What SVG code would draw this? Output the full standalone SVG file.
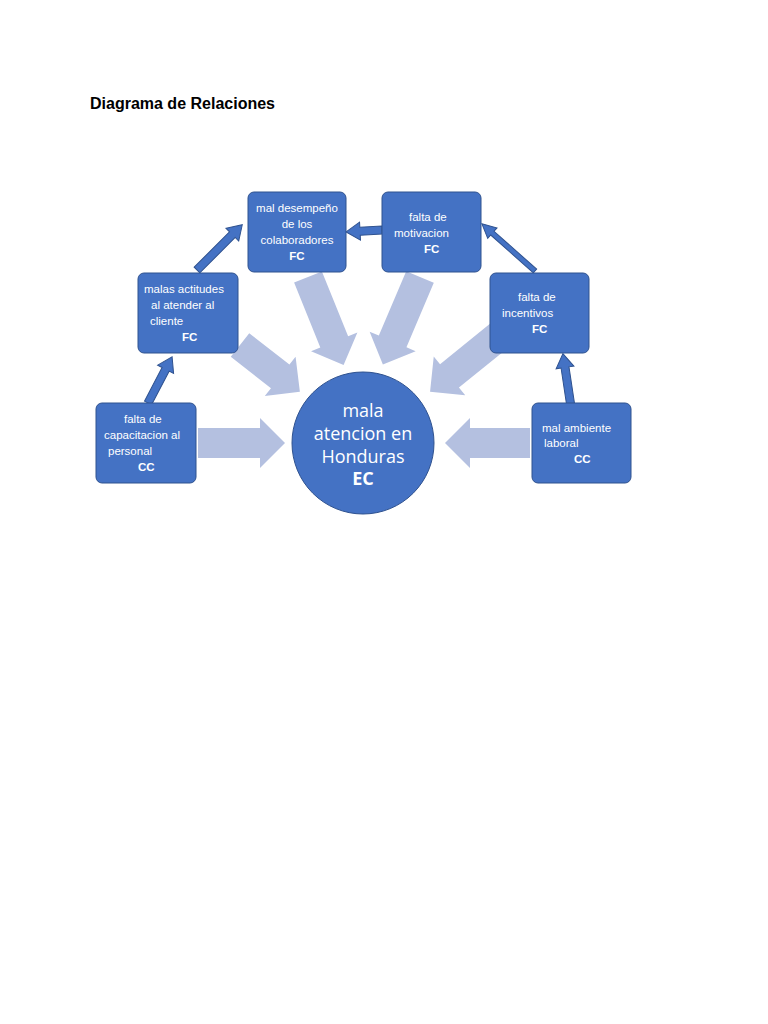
<svg xmlns="http://www.w3.org/2000/svg" width="768" height="1024" viewBox="0 0 768 1024">
<style>
.box{fill:#4472c4;stroke:#2f528f;stroke-width:1}
.big{fill:#b4c0e0}
.thin{fill:#4472c4;stroke:#2f528f;stroke-width:1}
.t{font-family:"Liberation Sans",Arial,sans-serif;font-size:11.5px;fill:#fff}
.b{font-weight:bold}
.c{font-family:"Open Sans","Liberation Sans",sans-serif;font-size:18px;fill:#fff;text-anchor:middle}
</style>
<rect width="768" height="1024" fill="#fff"/>
<text x="90" y="109" font-family="Liberation Sans,Arial,sans-serif" font-size="16" font-weight="bold" fill="#000">Diagrama de Relaciones</text>
<g id="connectors">
<polygon class="big" transform="translate(198,443)" points="0,-15 62,-15 62,-25 87,0 62,25 62,15 0,15"/>
<polygon class="big" transform="translate(240,345) rotate(38)" points="0,-15 51,-15 51,-25 76,0 51,25 51,15 0,15"/>
<polygon class="big" transform="translate(308,277) rotate(68)" points="0,-15 70,-15 70,-25 95,0 70,25 70,15 0,15"/>
<polygon class="big" transform="translate(420,277) rotate(113)" points="0,-15 70,-15 70,-25 95,0 70,25 70,15 0,15"/>
<polygon class="big" transform="translate(500,335) rotate(141)" points="0,-15 65,-15 65,-25 90,0 65,25 65,15 0,15"/>
<polygon class="big" transform="translate(530,443) rotate(180)" points="0,-15 60,-15 60,-25 85,0 60,25 60,15 0,15"/>
<polygon class="thin" transform="translate(148,403) rotate(-62.4)" points="0,-4 38,-4 38,-9 52,0 38,9 38,4 0,4"/>
<polygon class="thin" transform="translate(197,270) rotate(-45)" points="0,-4 50,-4 50,-9 64,0 50,9 50,4 0,4"/>
<polygon class="thin" transform="translate(382,230) rotate(177)" points="0,-4 22,-4 22,-9 36,0 22,9 22,4 0,4"/>
<polygon class="thin" transform="translate(535,271) rotate(-138.4)" points="0,-2.5 57,-2.5 57,-7 71,0 57,7 57,2.5 0,2.5"/>
<polygon class="thin" transform="translate(571,407) rotate(-98.6)" points="0,-4 40,-4 40,-9 54,0 40,9 40,4 0,4"/>
</g>
<g id="n1"><rect class="box" x="96" y="403" width="100" height="80" rx="6"/>
<text class="t"><tspan x="124" y="423">falta de</tspan><tspan x="104" y="439">capacitacion al</tspan><tspan x="108" y="455">personal</tspan><tspan class="b" x="138" y="471">CC</tspan></text></g>
<g id="n2"><rect class="box" x="138" y="273" width="100" height="80" rx="6"/>
<text class="t"><tspan x="144" y="293">malas actitudes</tspan><tspan x="151" y="309">al atender al</tspan><tspan x="150" y="325">cliente</tspan><tspan class="b" x="182" y="341">FC</tspan></text></g>
<g id="n3"><rect class="box" x="248" y="192" width="98" height="80" rx="6"/>
<text class="t" text-anchor="middle"><tspan x="297" y="212">mal desempeño</tspan><tspan x="297" y="228">de los</tspan><tspan x="297" y="244">colaboradores</tspan><tspan class="b" x="297" y="260">FC</tspan></text></g>
<g id="n4"><rect class="box" x="382" y="192" width="99" height="80" rx="6"/>
<text class="t"><tspan x="409" y="221">falta de</tspan><tspan x="394" y="237">motivacion</tspan><tspan class="b" x="424" y="253">FC</tspan></text></g>
<g id="n5"><rect class="box" x="490" y="273" width="99" height="80" rx="6"/>
<text class="t"><tspan x="518" y="301">falta de</tspan><tspan x="502" y="317">incentivos</tspan><tspan class="b" x="532" y="333">FC</tspan></text></g>
<g id="n6"><rect class="box" x="532" y="403" width="99" height="80" rx="6"/>
<text class="t"><tspan x="542" y="432">mal ambiente</tspan><tspan x="544" y="447">laboral</tspan><tspan class="b" x="574" y="463">CC</tspan></text></g>
<g id="ec"><circle class="box" cx="363" cy="443" r="71"/>
<text class="c"><tspan x="363" y="417">mala</tspan><tspan x="363" y="440">atencion en</tspan><tspan x="363" y="463">Honduras</tspan><tspan x="363" y="485" font-weight="bold">EC</tspan></text></g>
</svg>
